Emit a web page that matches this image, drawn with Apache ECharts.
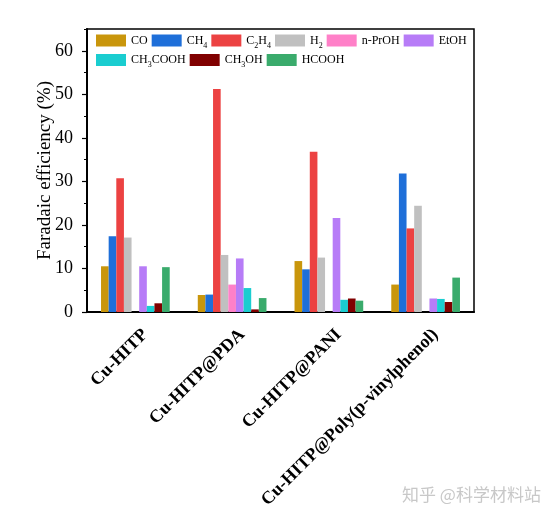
<!DOCTYPE html>
<html><head><meta charset="utf-8">
<script src="https://cdn.jsdelivr.net/npm/echarts@6/dist/echarts.min.js"></script>
<style>html,body{margin:0;padding:0;background:#fff}#c{width:554px;height:520px}</style>
</head><body><div id="c"></div>
<script>
const categories = ['Cu-HITP', 'Cu-HITP@PDA', 'Cu-HITP@PANI', 'Cu-HITP@Poly(p-vinylphenol)'];
const seriesNames = ['CO', 'CH4', 'C2H4', 'H2', 'n-PrOH', 'EtOH', 'CH3COOH', 'CH3OH', 'HCOOH'];
const CO      = [10.5, 3.9, 11.7, 6.3];
const CH4     = [17.4, 4.0, 9.8, 31.8];
const C2H4    = [30.7, 51.2, 36.8, 19.2];
const H2      = [17.1, 13.1, 12.5, 24.4];
const nPrOH   = [0, 6.3, 0, 0];
const EtOH    = [10.5, 12.3, 21.6, 3.1];
const CH3COOH = [1.4, 5.5, 2.8, 3.0];
const CH3OH   = [2.0, 0.6, 3.1, 2.3];
const HCOOH   = [10.3, 3.2, 2.6, 7.9];
const yTicks  = [0, 10, 20, 30, 40, 50, 60];

const values = [CO, CH4, C2H4, H2, nPrOH, EtOH, CH3COOH, CH3OH, HCOOH];
const colors = ['#C9960C', '#1E6FD9', '#EC4242', '#C0C0C0', '#FF80C8', '#B77CF7', '#1ACDD0', '#800000', '#3AAB6C'];
const legendRich = {
  'CO': '{n|CO}', 'CH4': '{n|CH}{s|4}', 'C2H4': '{n|C}{s|2}{n|H}{s|4}', 'H2': '{n|H}{s|2}',
  'n-PrOH': '{n|n-PrOH}', 'EtOH': '{n|EtOH}', 'CH3COOH': '{n|CH}{s|3}{n|COOH}',
  'CH3OH': '{n|CH}{s|3}{n|OH}', 'HCOOH': '{n|HCOOH}'
};
const serif = '"Liberation Serif", "Times New Roman", serif';
const legendText = {
  fontFamily: serif, fontSize: 12, color: '#000',
  rich: {
    n: { fontFamily: serif, fontSize: 12, color: '#000', lineHeight: 14 },
    s: { fontFamily: serif, fontSize: 8, color: '#000', lineHeight: 9, verticalAlign: 'bottom', padding: [0, 0, -2, 0] }
  }
};
function mkLegend(names, top) {
  return {
    data: names, left: 96, top: top, padding: 0, itemWidth: 30, itemHeight: 12, itemGap: 4,
    icon: 'rect', selectedMode: false, textStyle: legendText,
    formatter: n => legendRich[n] || n
  };
}
const chart = echarts.init(document.getElementById('c'), null, { renderer: 'canvas' });
chart.setOption({
  animation: false,
  backgroundColor: '#fff',
  grid: { left: 87, top: 29, right: 80, bottom: 208, show: true, borderColor: '#000', borderWidth: 1.5, backgroundColor: 'transparent' },
  legend: [mkLegend(seriesNames.slice(0, 6), 34.5), mkLegend(seriesNames.slice(6), 54)],
  xAxis: {
    type: 'category', data: categories,
    axisLine: { lineStyle: { color: '#000', width: 2 } },
    axisTick: { alignWithLabel: true, length: 4, lineStyle: { color: '#000', width: 1.2 } },
    axisLabel: { rotate: 45, margin: 10, fontFamily: serif, fontWeight: 'bold', fontSize: 18, color: '#000', interval: 0,
      align: 'right', verticalAlign: 'top', padding: [5, 0, 0, 0] },
    splitLine: { show: false }
  },
  yAxis: [{
    type: 'value', min: 0, max: 65, interval: 10,
    name: 'Faradaic efficiency (%)', nameLocation: 'middle', nameGap: 32, nameMoveOverlap: false,
    nameTextStyle: { fontFamily: serif, fontSize: 19, color: '#000' },
    axisLine: { show: true, lineStyle: { color: '#000', width: 2 } },
    axisTick: { show: true, length: 5, lineStyle: { color: '#000', width: 1.2 } },
    axisLabel: { fontFamily: serif, fontSize: 18, color: '#000', margin: 14, showMaxLabel: false,
      formatter: v => yTicks.indexOf(v) >= 0 ? String(v) : '' },
    splitLine: { show: false }
  }, {
    type: 'value', min: 0, max: 65, interval: 5, position: 'left',
    axisLine: { show: false },
    axisTick: { show: true, length: 3, lineStyle: { color: '#000', width: 1 } },
    axisLabel: { show: false },
    splitLine: { show: false }
  }],
  series: seriesNames.map((n, i) => ({
    name: n, type: 'bar', data: values[i], yAxisIndex: 0,
    barGap: '0%', barCategoryGap: '29%',
    itemStyle: { color: colors[i] }
  })),
  graphic: [{
    type: 'text', left: 402, top: 486,
    style: { text: '知乎 @科学材料站', fill: '#c8c8c8', fontSize: 17, fontFamily: '"Noto Sans CJK SC", sans-serif' }
  }]
});
</script></body></html>
